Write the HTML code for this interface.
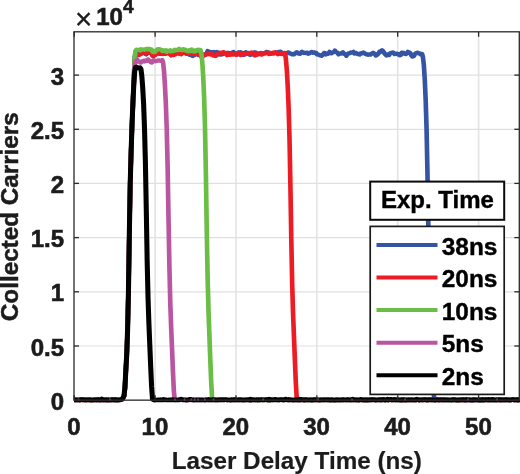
<!DOCTYPE html>
<html lang="en"><head><meta charset="utf-8"><title>Collected Carriers vs Laser Delay Time</title>
<style>
html,body{margin:0;padding:0;background:#fff;}
body{width:520px;height:474px;overflow:hidden;}
svg{display:block;}
text{font-family:'Liberation Sans', sans-serif;font-weight:bold;fill:#1c1c1c;stroke:#1c1c1c;stroke-width:0.2px;}
text.lg{fill:#000;stroke:#000;stroke-width:0.4px;}
tspan.tm{font-weight:normal;stroke-width:0.3px;}
g.tk text{stroke-width:0.6px;}
text.yl{stroke-width:0.5px;}
</style></head><body>
<svg width="520" height="474" viewBox="0 0 520 474">
<rect x="0" y="0" width="520" height="474" fill="#ffffff"/>

<g stroke="#e5e5e5" stroke-width="1.7" fill="none">
<line x1="155.1" y1="31.8" x2="155.1" y2="400.15"/>
<line x1="236.0" y1="31.8" x2="236.0" y2="400.15"/>
<line x1="316.8" y1="31.8" x2="316.8" y2="400.15"/>
<line x1="397.7" y1="31.8" x2="397.7" y2="400.15"/>
<line x1="478.6" y1="31.8" x2="478.6" y2="400.15"/>
</g>
<g stroke="#e0e0e0" stroke-width="1.15" fill="none">
<line x1="74.0" y1="346.0" x2="519.3" y2="346.0"/>
<line x1="74.0" y1="291.8" x2="519.3" y2="291.8"/>
<line x1="74.0" y1="237.6" x2="519.3" y2="237.6"/>
<line x1="74.0" y1="183.4" x2="519.3" y2="183.4"/>
<line x1="74.0" y1="129.3" x2="519.3" y2="129.3"/>
<line x1="74.0" y1="75.1" x2="519.3" y2="75.1"/>
</g>
<defs><clipPath id="ax"><rect x="74.0" y="31.8" width="447.3" height="371.3"/></clipPath></defs>
<g clip-path="url(#ax)">
<g fill="none" stroke-width="4.3" stroke-linejoin="round" stroke-linecap="round" transform="scale(1.08,1)">
<polyline stroke="#3454a4" points="68.70,400.1 69.53,399.9 70.35,399.7 71.18,399.8 72.00,399.7 72.82,399.7 73.65,400.0 74.47,399.9 75.29,399.8 76.12,399.9 76.94,400.0 77.77,399.8 78.59,399.7 79.41,399.9 80.24,399.9 81.06,400.0 81.88,399.8 82.71,399.8 83.53,400.0 84.36,400.0 85.18,400.1 86.00,400.0 86.83,400.0 87.65,399.9 88.47,399.8 89.30,400.1 90.12,399.8 90.95,399.8 91.77,400.1 92.59,399.9 93.42,400.0 94.24,400.0 95.06,400.1 95.89,399.9 96.71,399.8 97.54,399.7 98.36,400.0 99.18,400.1 100.01,400.1 100.83,400.0 101.65,400.1 102.48,399.9 103.30,399.9 104.13,400.1 104.95,399.9 105.77,399.9 106.60,400.0 107.42,400.0 108.25,399.7 109.07,399.9 109.89,400.0 110.72,399.9 111.54,399.9 112.36,399.8 113.19,399.0 114.01,397.5 114.84,396.1 115.66,387.9 116.48,371.3 117.31,355.3 118.13,330.3 118.95,291.7 119.78,233.1 120.60,183.0 121.43,151.3 122.25,125.0 123.07,103.7 123.90,81.1 124.72,57.5 125.54,51.8 126.37,51.6 127.19,51.6 128.02,52.0 128.84,52.6 129.66,53.7 130.49,53.4 131.31,53.5 132.13,53.2 132.96,52.5 133.78,52.9 134.61,54.0 135.43,54.5 136.25,53.0 137.08,52.2 137.90,51.4 138.72,51.0 139.55,51.3 140.37,52.2 141.20,52.7 142.02,53.0 142.84,53.8 143.67,52.6 144.49,51.8 145.32,51.5 146.14,51.7 146.96,53.7 147.79,53.8 148.61,53.4 149.43,53.9 150.26,53.4 151.08,53.6 151.91,53.4 152.73,52.3 153.55,51.8 154.38,51.6 155.20,52.5 156.02,52.5 156.85,52.9 157.67,52.4 158.50,52.9 159.32,53.0 160.14,53.6 160.97,54.0 161.79,53.7 162.61,52.7 163.44,53.1 164.26,53.3 165.09,52.6 165.91,53.6 166.73,53.2 167.56,52.2 168.38,52.6 169.20,52.5 170.03,51.7 170.85,52.2 171.68,52.7 172.50,53.0 173.32,53.9 174.15,53.8 174.97,54.3 175.79,54.9 176.62,54.8 177.44,55.5 178.27,56.0 179.09,54.8 179.91,55.3 180.74,54.2 181.56,53.5 182.39,54.4 183.21,54.6 184.03,55.2 184.86,55.1 185.68,54.7 186.50,54.3 187.33,55.0 188.15,54.5 188.98,55.4 189.80,55.2 190.62,54.0 191.45,53.1 192.27,51.0 193.09,52.0 193.92,52.0 194.74,51.8 195.57,52.5 196.39,52.2 197.21,52.2 198.04,52.0 198.86,53.4 199.68,52.5 200.51,52.0 201.33,53.5 202.16,52.5 202.98,53.3 203.80,54.5 204.63,54.5 205.45,54.4 206.27,54.2 207.10,53.0 207.92,53.3 208.75,53.4 209.57,52.8 210.39,52.9 211.22,53.1 212.04,52.8 212.86,53.6 213.69,53.1 214.51,52.9 215.34,52.4 216.16,52.0 216.98,53.3 217.81,54.3 218.63,54.6 219.46,54.7 220.28,53.0 221.10,52.3 221.93,53.0 222.75,52.3 223.57,53.2 224.40,54.7 225.22,53.1 226.05,54.8 226.87,54.0 227.69,52.2 228.52,53.1 229.34,53.1 230.16,53.0 230.99,54.4 231.81,55.0 232.64,54.5 233.46,54.4 234.28,53.6 235.11,52.3 235.93,52.3 236.75,52.6 237.58,53.8 238.40,54.3 239.23,53.8 240.05,53.7 240.87,53.1 241.70,52.9 242.52,53.5 243.34,53.6 244.17,53.7 244.99,53.4 245.82,52.8 246.64,51.8 247.46,52.0 248.29,52.3 249.11,53.2 249.93,53.9 250.76,53.4 251.58,53.5 252.41,53.3 253.23,52.9 254.05,53.3 254.88,53.2 255.70,52.7 256.53,53.0 257.35,52.7 258.17,51.9 259.00,51.8 259.82,51.7 260.64,52.4 261.47,52.9 262.29,53.3 263.12,54.5 263.94,53.5 264.76,53.3 265.59,53.2 266.41,52.6 267.23,52.4 268.06,53.2 268.88,53.6 269.71,53.6 270.53,54.4 271.35,54.1 272.18,54.4 273.00,53.3 273.82,53.2 274.65,52.3 275.47,52.7 276.30,53.5 277.12,53.6 277.94,53.8 278.77,52.7 279.59,51.7 280.41,52.5 281.24,53.0 282.06,52.7 282.89,53.0 283.71,52.6 284.53,52.6 285.36,53.7 286.18,53.4 287.00,52.8 287.83,52.4 288.65,51.9 289.48,52.7 290.30,52.3 291.12,52.4 291.95,53.2 292.77,52.9 293.60,54.4 294.42,54.6 295.24,54.6 296.07,55.3 296.89,55.4 297.71,55.8 298.54,55.1 299.36,54.0 300.19,52.9 301.01,53.1 301.83,54.5 302.66,53.9 303.48,53.9 304.30,53.3 305.13,51.8 305.95,52.9 306.78,53.4 307.60,52.7 308.42,52.5 309.25,51.9 310.07,50.5 310.89,51.7 311.72,52.5 312.54,52.7 313.37,54.4 314.19,53.8 315.01,53.6 315.84,53.6 316.66,52.8 317.48,52.2 318.31,53.3 319.13,54.1 319.96,54.4 320.78,55.8 321.60,54.3 322.43,53.3 323.25,53.4 324.07,53.2 324.90,52.4 325.72,52.7 326.55,52.7 327.37,51.9 328.19,53.5 329.02,53.1 329.84,53.0 330.67,54.0 331.49,53.9 332.31,53.9 333.14,54.5 333.96,53.3 334.78,53.2 335.61,53.3 336.43,52.4 337.26,53.0 338.08,53.7 338.90,54.3 339.73,54.2 340.55,54.8 341.37,54.4 342.20,54.5 343.02,54.7 343.85,53.9 344.67,53.3 345.49,52.8 346.32,53.4 347.14,53.8 347.96,55.6 348.79,55.1 349.61,54.3 350.44,53.6 351.26,51.8 352.08,52.1 352.91,50.9 353.73,50.3 354.55,50.9 355.38,52.1 356.20,53.7 357.03,54.6 357.85,55.5 358.67,54.5 359.50,54.6 360.32,55.1 361.14,53.5 361.97,52.8 362.79,52.9 363.62,52.4 364.44,52.9 365.26,54.2 366.09,54.0 366.91,53.7 367.74,53.6 368.56,54.5 369.38,54.1 370.21,55.4 371.03,55.0 371.85,52.6 372.68,53.1 373.50,52.8 374.33,53.7 375.15,53.9 375.97,54.1 376.80,53.2 377.62,51.8 378.44,52.3 379.27,52.5 380.09,53.4 380.92,55.4 381.74,56.5 382.56,56.4 383.39,55.9 384.21,54.0 385.03,53.2 385.86,53.2 386.68,52.6 387.51,53.1 388.33,53.3 389.15,54.2 389.98,53.8 390.80,53.8 391.62,57.2 392.45,65.0 393.27,78.9 394.10,98.8 394.92,126.7 395.74,169.7 396.57,223.9 397.39,271.6 398.21,306.7 399.04,330.3 399.86,352.8 400.69,375.1 401.51,393.3 402.33,400.0 403.16,400.1 403.98,399.8 404.81,400.0 405.63,400.1 406.45,400.1 407.28,399.9 408.10,399.7 408.92,399.8 409.75,400.0 410.57,399.9 411.40,400.0 412.22,399.9 413.04,400.1 413.87,400.0 414.69,400.1 415.51,400.1 416.34,400.1 417.16,400.1 417.99,399.9 418.81,399.7 419.63,399.9 420.46,399.9 421.28,399.9 422.10,400.0 422.93,400.1 423.75,399.8 424.58,399.9 425.40,399.9 426.22,399.9 427.05,399.9 427.87,399.9 428.69,400.0 429.52,400.1 430.34,399.7 431.17,400.1 431.99,399.7 432.81,400.0 433.64,400.0 434.46,399.9 435.28,400.1 436.11,400.0 436.93,399.8 437.76,400.0 438.58,399.9 439.40,400.0 440.23,400.0 441.05,400.0 441.88,399.9 442.70,399.8 443.52,399.9 444.35,400.1 445.17,399.9 445.99,399.8 446.82,400.0 447.64,399.9 448.47,400.0 449.29,399.9 450.11,400.1 450.94,399.8 451.76,400.0 452.58,400.0 453.41,399.9 454.23,400.1 455.06,399.9 455.88,399.9 456.70,399.9 457.53,400.1 458.35,400.0 459.17,400.0 460.00,400.0 460.82,399.6 461.65,399.8 462.47,399.8 463.29,399.8 464.12,399.7 464.94,400.1 465.76,400.0 466.59,399.8 467.41,399.7 468.24,400.0 469.06,400.1 469.88,400.0 470.71,400.0 471.53,400.0 472.35,399.9 473.18,399.9 474.00,399.9 474.83,399.8 475.65,400.1 476.47,399.9 477.30,399.8 478.12,400.0 478.95,399.9 479.77,400.0 480.59,399.9"/>
<polyline stroke="#ed1c24" points="68.70,400.0 69.53,399.9 70.35,400.0 71.18,399.7 72.00,400.0 72.82,399.8 73.65,399.8 74.47,400.1 75.29,399.8 76.12,400.1 76.94,400.0 77.77,399.9 78.59,400.1 79.41,400.1 80.24,400.0 81.06,399.8 81.88,399.9 82.71,400.0 83.53,400.0 84.36,399.9 85.18,399.8 86.00,400.0 86.83,399.9 87.65,400.0 88.47,400.0 89.30,399.9 90.12,400.1 90.95,400.0 91.77,400.0 92.59,400.0 93.42,399.8 94.24,400.0 95.06,400.1 95.89,399.9 96.71,400.1 97.54,399.9 98.36,399.5 99.18,400.0 100.01,400.0 100.83,399.6 101.65,400.0 102.48,400.1 103.30,400.0 104.13,399.8 104.95,399.6 105.77,400.1 106.60,400.0 107.42,399.8 108.25,400.0 109.07,399.9 109.89,399.8 110.72,399.6 111.54,399.7 112.36,399.8 113.19,399.3 114.01,397.8 114.84,396.1 115.66,388.0 116.48,371.2 117.31,355.5 118.13,330.4 118.95,291.5 119.78,232.2 120.60,182.5 121.43,151.5 122.25,125.1 123.07,105.9 123.90,83.7 124.72,62.4 125.54,56.2 126.37,55.4 127.19,54.9 128.02,55.1 128.84,55.1 129.66,54.5 130.49,53.6 131.31,52.9 132.13,52.7 132.96,52.5 133.78,52.6 134.61,51.8 135.43,52.3 136.25,52.9 137.08,52.8 137.90,52.8 138.72,51.9 139.55,53.0 140.37,53.2 141.20,56.0 142.02,56.5 142.84,55.4 143.67,55.2 144.49,53.7 145.32,53.5 146.14,53.5 146.96,53.0 147.79,52.4 148.61,53.2 149.43,52.8 150.26,52.9 151.08,54.0 151.91,53.8 152.73,53.9 153.55,53.8 154.38,53.1 155.20,52.9 156.02,53.7 156.85,53.9 157.67,54.6 158.50,55.5 159.32,54.6 160.14,54.6 160.97,55.0 161.79,54.4 162.61,54.3 163.44,53.5 164.26,52.4 165.09,52.8 165.91,52.8 166.73,53.7 167.56,54.3 168.38,53.6 169.20,53.1 170.03,53.0 170.85,53.1 171.68,53.2 172.50,53.8 173.32,52.9 174.15,53.4 174.97,53.4 175.79,52.8 176.62,53.0 177.44,52.8 178.27,53.8 179.09,54.1 179.91,54.2 180.74,54.0 181.56,53.6 182.39,53.6 183.21,53.3 184.03,54.3 184.86,55.0 185.68,55.9 186.50,56.8 187.33,56.3 188.15,55.7 188.98,54.6 189.80,54.6 190.62,54.3 191.45,54.4 192.27,54.3 193.09,54.1 193.92,54.1 194.74,53.8 195.57,54.6 196.39,54.0 197.21,55.4 198.04,55.7 198.86,55.7 199.68,56.1 200.51,55.2 201.33,54.1 202.16,54.3 202.98,53.6 203.80,52.8 204.63,53.2 205.45,52.5 206.27,52.3 207.10,52.2 207.92,53.4 208.75,53.1 209.57,54.0 210.39,55.3 211.22,53.6 212.04,54.9 212.86,54.8 213.69,53.9 214.51,54.6 215.34,53.8 216.16,54.5 216.98,54.3 217.81,54.4 218.63,54.8 219.46,53.3 220.28,52.9 221.10,53.4 221.93,53.7 222.75,55.0 223.57,54.9 224.40,54.4 225.22,54.1 226.05,53.9 226.87,54.1 227.69,54.0 228.52,53.5 229.34,53.9 230.16,53.4 230.99,53.7 231.81,53.3 232.64,52.5 233.46,53.1 234.28,53.1 235.11,54.4 235.93,55.5 236.75,55.2 237.58,54.9 238.40,53.8 239.23,53.4 240.05,54.0 240.87,54.3 241.70,54.6 242.52,54.5 243.34,53.7 244.17,53.1 244.99,53.1 245.82,52.9 246.64,53.0 247.46,52.5 248.29,53.7 249.11,54.0 249.93,52.9 250.76,53.1 251.58,53.5 252.41,52.7 253.23,53.3 254.05,52.9 254.88,52.2 255.70,52.7 256.53,53.4 257.35,54.2 258.17,53.2 259.00,53.7 259.82,53.8 260.64,54.0 261.47,53.6 262.29,53.2 263.12,53.0 263.94,53.0 264.76,59.6 265.59,70.1 266.41,85.9 267.23,107.4 268.06,138.3 268.88,184.4 269.71,238.9 270.53,283.2 271.35,313.5 272.18,336.5 273.00,358.9 273.82,380.5 274.65,396.7 275.47,400.0 276.30,400.0 277.12,400.1 277.94,400.0 278.77,400.0 279.59,399.9 280.41,399.9 281.24,400.1 282.06,399.7 282.89,399.9 283.71,400.0 284.53,400.1 285.36,399.9 286.18,399.9 287.00,400.0 287.83,399.7 288.65,400.0 289.48,399.8 290.30,399.9 291.12,400.0 291.95,400.0 292.77,400.0 293.60,400.1 294.42,400.1 295.24,399.9 296.07,400.0 296.89,399.9 297.71,399.8 298.54,399.9 299.36,400.0 300.19,399.9 301.01,399.7 301.83,399.8 302.66,400.1 303.48,400.0 304.30,400.0 305.13,400.1 305.95,400.0 306.78,400.0 307.60,399.9 308.42,400.0 309.25,399.9 310.07,399.8 310.89,400.0 311.72,399.9 312.54,400.0 313.37,399.9 314.19,399.9 315.01,399.9 315.84,400.1 316.66,399.8 317.48,400.0 318.31,400.1 319.13,399.8 319.96,399.9 320.78,400.0 321.60,399.6 322.43,399.8 323.25,399.9 324.07,400.0 324.90,400.0 325.72,400.0 326.55,399.7 327.37,400.0 328.19,399.8 329.02,399.7 329.84,400.0 330.67,400.1 331.49,400.0 332.31,400.1 333.14,400.1 333.96,399.9 334.78,399.9 335.61,400.1 336.43,399.9 337.26,400.1 338.08,400.0 338.90,399.9 339.73,399.3 340.55,399.9 341.37,400.0 342.20,399.9 343.02,399.8 343.85,399.9 344.67,399.7 345.49,399.8 346.32,399.9 347.14,399.9 347.96,400.0 348.79,399.9 349.61,399.9 350.44,399.9 351.26,400.0 352.08,399.9 352.91,399.8 353.73,400.0 354.55,399.9 355.38,399.9 356.20,399.8 357.03,400.0 357.85,399.7 358.67,399.7 359.50,400.0 360.32,399.7 361.14,400.0 361.97,400.0 362.79,400.0 363.62,399.7 364.44,399.6 365.26,399.6 366.09,399.9 366.91,399.7 367.74,400.0 368.56,400.0 369.38,399.8 370.21,400.0 371.03,400.0 371.85,399.7 372.68,400.0 373.50,399.9 374.33,400.0 375.15,400.1 375.97,400.1 376.80,400.0 377.62,399.8 378.44,400.0 379.27,399.8 380.09,399.8 380.92,399.9 381.74,400.0 382.56,399.9 383.39,400.0 384.21,400.0 385.03,400.0 385.86,399.9 386.68,399.7 387.51,400.0 388.33,400.0 389.15,399.8 389.98,399.9 390.80,399.7 391.62,400.1 392.45,400.0 393.27,400.1 394.10,399.5 394.92,400.1 395.74,400.0 396.57,400.0 397.39,400.0 398.21,400.0 399.04,399.9 399.86,399.9 400.69,399.4 401.51,400.0 402.33,400.0 403.16,400.0 403.98,399.8 404.81,400.0 405.63,399.9 406.45,400.0 407.28,400.0 408.10,400.0 408.92,399.9 409.75,400.0 410.57,399.8 411.40,399.9 412.22,400.0 413.04,400.0 413.87,399.8 414.69,399.8 415.51,399.6 416.34,399.9 417.16,399.9 417.99,400.0 418.81,399.9 419.63,400.0 420.46,399.9 421.28,399.9 422.10,400.0 422.93,399.8 423.75,400.0 424.58,400.0 425.40,400.1 426.22,400.0 427.05,400.0 427.87,400.1 428.69,399.9 429.52,400.1 430.34,400.0 431.17,400.0 431.99,400.0 432.81,399.9 433.64,400.1 434.46,399.8 435.28,399.8 436.11,400.1 436.93,399.9 437.76,399.9 438.58,400.1 439.40,399.9 440.23,399.8 441.05,399.8 441.88,399.9 442.70,399.9 443.52,399.6 444.35,400.1 445.17,400.1 445.99,399.8 446.82,399.9 447.64,399.8 448.47,399.9 449.29,399.9 450.11,399.7 450.94,400.1 451.76,400.0 452.58,399.9 453.41,400.1 454.23,399.9 455.06,399.9 455.88,399.8 456.70,400.0 457.53,399.8 458.35,399.9 459.17,400.1 460.00,400.1 460.82,399.8 461.65,399.7 462.47,400.0 463.29,400.0 464.12,400.1 464.94,400.1 465.76,400.0 466.59,399.9 467.41,400.0 468.24,400.0 469.06,399.9 469.88,399.8 470.71,399.7 471.53,400.0 472.35,399.8 473.18,399.7 474.00,400.0 474.83,399.8 475.65,399.7 476.47,400.0 477.30,399.9 478.12,400.0 478.95,399.7 479.77,400.0 480.59,400.0"/>
<polyline stroke="#6abd45" points="68.70,399.7 69.53,399.7 70.35,399.8 71.18,400.0 72.00,400.0 72.82,400.0 73.65,399.9 74.47,400.0 75.29,399.8 76.12,399.9 76.94,400.0 77.77,400.0 78.59,400.1 79.41,400.0 80.24,400.0 81.06,400.1 81.88,399.9 82.71,400.0 83.53,399.9 84.36,400.1 85.18,400.1 86.00,399.9 86.83,399.9 87.65,399.8 88.47,399.9 89.30,400.1 90.12,400.0 90.95,400.0 91.77,399.8 92.59,399.9 93.42,399.7 94.24,400.1 95.06,399.5 95.89,400.1 96.71,400.0 97.54,399.9 98.36,399.6 99.18,399.8 100.01,399.9 100.83,400.1 101.65,400.0 102.48,399.9 103.30,400.0 104.13,400.0 104.95,400.0 105.77,400.0 106.60,400.0 107.42,399.9 108.25,400.0 109.07,400.1 109.89,400.0 110.72,400.0 111.54,399.8 112.36,399.6 113.19,399.1 114.01,397.8 114.84,396.2 115.66,388.0 116.48,371.5 117.31,355.4 118.13,330.4 118.95,291.1 119.78,231.9 120.60,181.9 121.43,150.4 122.25,124.4 123.07,104.3 123.90,81.7 124.72,57.7 125.54,51.0 126.37,49.7 127.19,50.1 128.02,49.8 128.84,50.0 129.66,50.5 130.49,49.2 131.31,49.6 132.13,49.7 132.96,49.5 133.78,49.8 134.61,49.2 135.43,48.9 136.25,49.0 137.08,49.5 137.90,48.7 138.72,49.3 139.55,49.4 140.37,49.5 141.20,51.9 142.02,52.0 142.84,52.1 143.67,51.7 144.49,50.5 145.32,49.7 146.14,49.2 146.96,49.2 147.79,49.2 148.61,49.6 149.43,49.8 150.26,50.9 151.08,50.2 151.91,51.0 152.73,50.8 153.55,50.2 154.38,51.8 155.20,50.8 156.02,51.2 156.85,51.1 157.67,50.2 158.50,51.5 159.32,50.9 160.14,51.2 160.97,50.6 161.79,49.7 162.61,50.5 163.44,50.0 164.26,50.0 165.09,50.0 165.91,48.8 166.73,49.8 167.56,50.0 168.38,50.2 169.20,49.4 170.03,49.2 170.85,50.0 171.68,49.6 172.50,50.6 173.32,50.9 174.15,51.2 174.97,50.3 175.79,51.1 176.62,51.1 177.44,49.5 178.27,50.6 179.09,51.3 179.91,50.6 180.74,51.4 181.56,50.6 182.39,49.9 183.21,50.1 184.03,49.7 184.86,51.0 185.68,50.1 186.50,54.1 187.33,62.8 188.15,76.5 188.98,96.9 189.80,126.6 190.62,172.6 191.45,230.6 192.27,279.1 193.09,312.1 193.92,336.6 194.74,360.1 195.57,382.5 196.39,397.9 197.21,399.9 198.04,400.0 198.86,399.9 199.68,399.8 200.51,400.0 201.33,400.0 202.16,399.9 202.98,400.0 203.80,399.8 204.63,399.7 205.45,399.9 206.27,399.9 207.10,399.7 207.92,399.6 208.75,399.9 209.57,399.9 210.39,400.0 211.22,400.0 212.04,400.0 212.86,400.0 213.69,399.8 214.51,400.0 215.34,399.8 216.16,400.0 216.98,400.0 217.81,400.0 218.63,399.4 219.46,399.8 220.28,400.0 221.10,400.0 221.93,400.1 222.75,399.8 223.57,399.9 224.40,399.9 225.22,399.9 226.05,399.9 226.87,400.1 227.69,400.0 228.52,400.0 229.34,399.7 230.16,399.9 230.99,399.9 231.81,400.0 232.64,399.9 233.46,399.8 234.28,400.0 235.11,399.9 235.93,399.6 236.75,400.0 237.58,399.7 238.40,399.9 239.23,399.9 240.05,400.1 240.87,399.9 241.70,400.0 242.52,399.9 243.34,400.0 244.17,400.0 244.99,400.0 245.82,399.9 246.64,399.9 247.46,400.0 248.29,399.8 249.11,399.9 249.93,400.0 250.76,399.6 251.58,400.0 252.41,399.9 253.23,399.8 254.05,400.0 254.88,399.9 255.70,400.1 256.53,400.1 257.35,399.8 258.17,400.1 259.00,400.0 259.82,399.8 260.64,400.0 261.47,400.1 262.29,399.8 263.12,400.1 263.94,399.8 264.76,399.8 265.59,399.9 266.41,399.8 267.23,400.0 268.06,400.0 268.88,399.9 269.71,399.9 270.53,400.0 271.35,399.8 272.18,400.0 273.00,400.0 273.82,400.0 274.65,399.9 275.47,400.1 276.30,399.9 277.12,399.8 277.94,399.5 278.77,399.9 279.59,399.9 280.41,400.1 281.24,400.0 282.06,400.1 282.89,399.8 283.71,399.7 284.53,400.1 285.36,399.7 286.18,400.0 287.00,400.0 287.83,400.0 288.65,399.8 289.48,400.0 290.30,400.0 291.12,399.9 291.95,399.9 292.77,399.7 293.60,399.8 294.42,400.1 295.24,400.0 296.07,400.0 296.89,399.9 297.71,399.9 298.54,400.0 299.36,400.0 300.19,399.9 301.01,400.1 301.83,399.7 302.66,399.9 303.48,400.1 304.30,400.0 305.13,399.8 305.95,400.0 306.78,400.0 307.60,400.1 308.42,399.5 309.25,399.7 310.07,400.1 310.89,400.0 311.72,399.9 312.54,400.0 313.37,400.0 314.19,399.8 315.01,400.0 315.84,400.0 316.66,400.1 317.48,400.0 318.31,399.8 319.13,400.0 319.96,400.1 320.78,400.1 321.60,399.9 322.43,400.0 323.25,400.0 324.07,400.1 324.90,399.8 325.72,400.0 326.55,400.1 327.37,399.8 328.19,399.9 329.02,399.9 329.84,400.1 330.67,399.7 331.49,400.1 332.31,400.0 333.14,399.8 333.96,400.0 334.78,400.0 335.61,400.1 336.43,399.9 337.26,400.0 338.08,399.9 338.90,400.0 339.73,400.0 340.55,399.8 341.37,400.0 342.20,400.0 343.02,400.1 343.85,400.1 344.67,399.8 345.49,400.0 346.32,400.1 347.14,399.8 347.96,399.9 348.79,399.9 349.61,399.8 350.44,399.6 351.26,399.9 352.08,400.1 352.91,399.5 353.73,400.1 354.55,400.0 355.38,400.0 356.20,400.1 357.03,400.0 357.85,399.6 358.67,399.9 359.50,399.9 360.32,400.0 361.14,399.5 361.97,400.0 362.79,399.8 363.62,400.0 364.44,400.1 365.26,399.8 366.09,399.9 366.91,400.1 367.74,400.1 368.56,399.9 369.38,399.7 370.21,399.9 371.03,399.7 371.85,400.0 372.68,400.0 373.50,399.8 374.33,399.7 375.15,400.0 375.97,400.0 376.80,400.1 377.62,399.9 378.44,400.1 379.27,400.0 380.09,400.0 380.92,400.0 381.74,400.0 382.56,399.7 383.39,400.1 384.21,399.9 385.03,399.5 385.86,399.6 386.68,400.0 387.51,399.9 388.33,400.1 389.15,399.9 389.98,400.1 390.80,399.9 391.62,399.9 392.45,400.1 393.27,399.8 394.10,399.9 394.92,399.7 395.74,399.7 396.57,399.9 397.39,400.0 398.21,400.0 399.04,400.0 399.86,399.9 400.69,400.0 401.51,399.9 402.33,399.8 403.16,400.0 403.98,400.1 404.81,399.7 405.63,399.9 406.45,399.9 407.28,399.9 408.10,399.8 408.92,400.0 409.75,400.0 410.57,400.0 411.40,399.9 412.22,399.7 413.04,400.0 413.87,400.0 414.69,399.6 415.51,400.0 416.34,399.8 417.16,400.0 417.99,399.9 418.81,400.0 419.63,399.9 420.46,400.1 421.28,400.0 422.10,399.8 422.93,399.9 423.75,400.1 424.58,399.9 425.40,400.1 426.22,400.1 427.05,400.0 427.87,399.8 428.69,400.0 429.52,399.8 430.34,399.8 431.17,399.6 431.99,400.0 432.81,399.9 433.64,399.8 434.46,400.1 435.28,400.1 436.11,400.0 436.93,399.9 437.76,399.9 438.58,400.0 439.40,399.8 440.23,399.8 441.05,399.9 441.88,399.8 442.70,399.9 443.52,399.8 444.35,400.0 445.17,399.9 445.99,400.0 446.82,400.0 447.64,400.1 448.47,399.8 449.29,400.0 450.11,400.0 450.94,399.8 451.76,400.1 452.58,399.8 453.41,400.0 454.23,399.9 455.06,399.9 455.88,400.1 456.70,399.7 457.53,400.1 458.35,400.1 459.17,399.8 460.00,400.0 460.82,400.0 461.65,400.0 462.47,400.1 463.29,399.9 464.12,399.9 464.94,399.8 465.76,400.0 466.59,400.0 467.41,400.1 468.24,400.0 469.06,399.9 469.88,400.0 470.71,400.1 471.53,400.1 472.35,399.9 473.18,399.9 474.00,399.8 474.83,399.9 475.65,400.0 476.47,400.1 477.30,399.7 478.12,399.7 478.95,400.0 479.77,400.0 480.59,399.7"/>
<polyline stroke="#ba55a0" points="68.70,399.9 69.53,400.0 70.35,399.9 71.18,400.0 72.00,400.0 72.82,399.9 73.65,399.9 74.47,400.0 75.29,400.0 76.12,400.1 76.94,400.1 77.77,400.1 78.59,400.0 79.41,400.1 80.24,399.9 81.06,399.7 81.88,399.8 82.71,400.0 83.53,400.0 84.36,399.9 85.18,400.0 86.00,400.0 86.83,399.9 87.65,399.9 88.47,399.8 89.30,400.1 90.12,399.7 90.95,399.9 91.77,400.0 92.59,400.0 93.42,399.8 94.24,400.1 95.06,400.1 95.89,400.0 96.71,400.1 97.54,399.6 98.36,400.1 99.18,399.7 100.01,400.0 100.83,399.9 101.65,400.0 102.48,400.0 103.30,400.1 104.13,399.6 104.95,400.0 105.77,400.0 106.60,399.8 107.42,400.1 108.25,400.0 109.07,399.9 109.89,400.1 110.72,400.0 111.54,399.9 112.36,399.5 113.19,399.3 114.01,397.8 114.84,395.9 115.66,388.0 116.48,371.1 117.31,355.3 118.13,330.1 118.95,291.4 119.78,232.3 120.60,181.2 121.43,150.1 122.25,123.4 123.07,102.4 123.90,83.1 124.72,65.0 125.54,61.5 126.37,60.6 127.19,59.9 128.02,61.6 128.84,61.5 129.66,62.5 130.49,62.5 131.31,61.3 132.13,61.4 132.96,60.7 133.78,61.4 134.61,60.5 135.43,61.0 136.25,60.9 137.08,59.4 137.90,60.4 138.72,60.9 139.55,62.2 140.37,62.5 141.20,61.8 142.02,60.3 142.84,60.3 143.67,61.3 144.49,61.0 145.32,61.0 146.14,60.5 146.96,60.5 147.79,60.4 148.61,60.8 149.43,60.4 150.26,60.1 151.08,63.1 151.91,71.7 152.73,85.5 153.55,103.4 154.38,128.7 155.20,166.1 156.02,216.7 156.85,266.2 157.67,303.0 158.50,328.2 159.32,349.5 160.14,371.6 160.97,390.8 161.79,400.0 162.61,400.0 163.44,399.7 164.26,400.0 165.09,399.9 165.91,399.9 166.73,399.9 167.56,399.7 168.38,400.0 169.20,399.9 170.03,399.9 170.85,399.8 171.68,400.1 172.50,399.9 173.32,400.0 174.15,399.9 174.97,400.1 175.79,400.0 176.62,400.0 177.44,399.9 178.27,399.6 179.09,400.0 179.91,399.8 180.74,400.0 181.56,399.5 182.39,400.0 183.21,400.1 184.03,399.6 184.86,400.0 185.68,400.0 186.50,399.9 187.33,400.0 188.15,400.0 188.98,399.8 189.80,400.0 190.62,399.8 191.45,399.9 192.27,399.9 193.09,400.0 193.92,400.0 194.74,400.0 195.57,400.0 196.39,400.1 197.21,399.9 198.04,399.8 198.86,399.8 199.68,400.1 200.51,399.9 201.33,400.0 202.16,399.9 202.98,399.9 203.80,399.9 204.63,400.0 205.45,400.0 206.27,400.0 207.10,399.9 207.92,400.0 208.75,399.7 209.57,400.0 210.39,400.0 211.22,399.5 212.04,400.0 212.86,400.0 213.69,399.9 214.51,400.0 215.34,400.0 216.16,399.9 216.98,400.0 217.81,399.8 218.63,399.9 219.46,399.9 220.28,399.8 221.10,400.0 221.93,399.9 222.75,400.0 223.57,399.9 224.40,400.1 225.22,400.0 226.05,400.0 226.87,400.0 227.69,400.0 228.52,399.5 229.34,399.7 230.16,400.1 230.99,399.9 231.81,400.0 232.64,400.1 233.46,399.9 234.28,399.8 235.11,400.0 235.93,400.1 236.75,400.0 237.58,399.8 238.40,400.1 239.23,400.1 240.05,400.1 240.87,400.1 241.70,400.0 242.52,400.0 243.34,400.0 244.17,399.7 244.99,399.8 245.82,400.1 246.64,399.8 247.46,400.0 248.29,400.0 249.11,399.8 249.93,399.8 250.76,400.0 251.58,399.8 252.41,400.1 253.23,399.9 254.05,399.9 254.88,400.0 255.70,399.9 256.53,399.9 257.35,400.0 258.17,399.6 259.00,400.1 259.82,400.0 260.64,399.9 261.47,399.8 262.29,399.9 263.12,399.9 263.94,400.0 264.76,399.9 265.59,399.8 266.41,400.0 267.23,400.0 268.06,400.1 268.88,399.9 269.71,399.9 270.53,400.0 271.35,400.1 272.18,399.9 273.00,400.1 273.82,400.1 274.65,399.9 275.47,400.0 276.30,400.0 277.12,399.9 277.94,400.0 278.77,399.8 279.59,400.1 280.41,400.0 281.24,400.0 282.06,399.9 282.89,399.7 283.71,400.0 284.53,399.8 285.36,399.9 286.18,400.0 287.00,400.0 287.83,400.0 288.65,399.9 289.48,399.9 290.30,400.0 291.12,399.9 291.95,399.9 292.77,399.8 293.60,399.7 294.42,400.0 295.24,400.0 296.07,399.9 296.89,399.9 297.71,400.0 298.54,400.1 299.36,399.8 300.19,399.7 301.01,399.9 301.83,399.9 302.66,399.9 303.48,399.7 304.30,399.8 305.13,400.0 305.95,400.0 306.78,400.0 307.60,400.0 308.42,400.1 309.25,400.1 310.07,399.8 310.89,399.9 311.72,400.1 312.54,399.8 313.37,399.9 314.19,399.9 315.01,399.9 315.84,400.1 316.66,400.1 317.48,399.8 318.31,400.0 319.13,399.8 319.96,399.5 320.78,399.7 321.60,399.9 322.43,400.0 323.25,399.9 324.07,400.1 324.90,399.9 325.72,400.1 326.55,399.7 327.37,400.1 328.19,400.0 329.02,400.0 329.84,400.0 330.67,400.0 331.49,400.0 332.31,399.7 333.14,400.1 333.96,399.8 334.78,400.0 335.61,399.8 336.43,400.0 337.26,400.1 338.08,399.9 338.90,400.0 339.73,399.9 340.55,400.0 341.37,400.0 342.20,399.9 343.02,400.0 343.85,400.0 344.67,400.1 345.49,399.7 346.32,399.9 347.14,399.9 347.96,400.1 348.79,400.0 349.61,400.0 350.44,400.0 351.26,400.1 352.08,400.1 352.91,400.0 353.73,400.0 354.55,399.8 355.38,400.0 356.20,399.8 357.03,399.9 357.85,400.1 358.67,399.7 359.50,400.0 360.32,400.0 361.14,399.8 361.97,399.9 362.79,400.0 363.62,400.0 364.44,400.0 365.26,399.7 366.09,400.0 366.91,400.0 367.74,400.0 368.56,399.8 369.38,400.0 370.21,400.0 371.03,399.9 371.85,400.0 372.68,399.8 373.50,400.0 374.33,400.0 375.15,399.9 375.97,400.1 376.80,400.1 377.62,400.1 378.44,400.0 379.27,400.0 380.09,400.0 380.92,400.0 381.74,400.1 382.56,399.8 383.39,400.0 384.21,400.0 385.03,399.8 385.86,399.7 386.68,399.8 387.51,400.0 388.33,400.1 389.15,400.0 389.98,399.8 390.80,400.0 391.62,399.7 392.45,400.0 393.27,399.9 394.10,400.0 394.92,400.1 395.74,399.8 396.57,400.0 397.39,400.0 398.21,399.8 399.04,399.5 399.86,400.0 400.69,399.9 401.51,400.0 402.33,400.0 403.16,399.8 403.98,399.9 404.81,399.8 405.63,400.1 406.45,400.0 407.28,399.7 408.10,399.8 408.92,399.9 409.75,399.9 410.57,400.1 411.40,399.8 412.22,399.7 413.04,399.8 413.87,399.9 414.69,399.9 415.51,400.0 416.34,400.0 417.16,400.1 417.99,400.1 418.81,399.8 419.63,399.3 420.46,400.0 421.28,399.8 422.10,400.0 422.93,399.8 423.75,400.1 424.58,400.1 425.40,400.0 426.22,399.9 427.05,400.0 427.87,399.9 428.69,399.8 429.52,399.7 430.34,400.0 431.17,399.9 431.99,400.0 432.81,399.8 433.64,400.1 434.46,399.9 435.28,399.9 436.11,400.1 436.93,400.1 437.76,400.1 438.58,400.1 439.40,400.0 440.23,400.1 441.05,399.8 441.88,399.6 442.70,399.9 443.52,400.1 444.35,400.0 445.17,399.9 445.99,399.9 446.82,399.8 447.64,399.8 448.47,400.0 449.29,400.0 450.11,399.8 450.94,399.9 451.76,400.0 452.58,399.9 453.41,400.1 454.23,400.0 455.06,400.0 455.88,399.7 456.70,400.0 457.53,399.6 458.35,400.1 459.17,399.9 460.00,400.1 460.82,399.6 461.65,400.1 462.47,400.0 463.29,399.6 464.12,400.0 464.94,399.8 465.76,400.1 466.59,399.8 467.41,400.0 468.24,399.9 469.06,400.0 469.88,400.0 470.71,400.0 471.53,399.9 472.35,400.1 473.18,400.1 474.00,399.9 474.83,399.7 475.65,400.1 476.47,400.1 477.30,400.0 478.12,399.9 478.95,399.9 479.77,399.9 480.59,400.0"/>
<polyline stroke="#000000" stroke-width="4.7" points="68.70,399.7 69.53,399.8 70.35,400.0 71.18,400.0 72.00,400.0 72.82,400.0 73.65,400.1 74.47,399.7 75.29,399.7 76.12,399.7 76.94,399.7 77.77,399.7 78.59,399.9 79.41,400.0 80.24,399.8 81.06,400.0 81.88,399.9 82.71,399.7 83.53,399.8 84.36,400.1 85.18,400.0 86.00,400.0 86.83,399.9 87.65,399.9 88.47,400.0 89.30,399.7 90.12,400.0 90.95,399.6 91.77,399.8 92.59,400.1 93.42,400.0 94.24,399.1 95.06,399.8 95.89,400.0 96.71,399.9 97.54,400.0 98.36,399.9 99.18,400.1 100.01,399.8 100.83,400.0 101.65,400.0 102.48,400.0 103.30,399.5 104.13,399.7 104.95,399.8 105.77,400.0 106.60,399.5 107.42,400.0 108.25,400.1 109.07,399.9 109.89,400.0 110.72,400.0 111.54,399.8 112.36,399.3 113.19,399.1 114.01,397.6 114.84,395.7 115.66,387.8 116.48,370.9 117.31,355.1 118.13,330.4 118.95,291.3 119.78,232.3 120.60,182.2 121.43,150.9 122.25,125.1 123.07,102.1 123.90,84.4 124.72,71.2 125.54,67.1 126.37,67.2 127.19,67.8 128.02,67.7 128.84,68.0 129.66,67.6 130.49,69.0 131.31,75.9 132.13,87.5 132.96,103.6 133.78,127.3 134.61,161.1 135.43,208.4 136.25,260.1 137.08,298.2 137.90,324.1 138.72,345.6 139.55,367.2 140.37,386.4 141.20,399.0 142.02,399.8 142.84,400.1 143.67,399.9 144.49,400.0 145.32,400.0 146.14,399.9 146.96,399.8 147.79,399.9 148.61,399.7 149.43,399.9 150.26,400.0 151.08,399.3 151.91,399.8 152.73,399.6 153.55,399.9 154.38,400.0 155.20,400.0 156.02,400.0 156.85,399.8 157.67,399.9 158.50,399.8 159.32,399.7 160.14,400.0 160.97,399.8 161.79,399.9 162.61,399.8 163.44,400.0 164.26,400.0 165.09,399.9 165.91,400.0 166.73,399.5 167.56,399.2 168.38,399.3 169.20,399.7 170.03,400.0 170.85,399.9 171.68,399.9 172.50,400.1 173.32,400.0 174.15,400.0 174.97,399.5 175.79,399.3 176.62,399.4 177.44,399.8 178.27,400.0 179.09,399.9 179.91,400.1 180.74,400.0 181.56,400.0 182.39,399.9 183.21,399.8 184.03,399.9 184.86,399.9 185.68,400.0 186.50,399.8 187.33,399.9 188.15,400.0 188.98,400.0 189.80,400.1 190.62,399.7 191.45,399.9 192.27,400.0 193.09,399.4 193.92,399.8 194.74,399.8 195.57,400.0 196.39,400.0 197.21,399.5 198.04,400.0 198.86,399.8 199.68,400.1 200.51,399.8 201.33,400.0 202.16,399.9 202.98,400.0 203.80,399.5 204.63,399.9 205.45,399.5 206.27,399.5 207.10,400.0 207.92,399.8 208.75,399.6 209.57,399.8 210.39,400.0 211.22,400.0 212.04,400.0 212.86,400.0 213.69,400.1 214.51,399.7 215.34,399.8 216.16,400.0 216.98,399.7 217.81,399.3 218.63,400.1 219.46,400.0 220.28,400.0 221.10,399.6 221.93,400.0 222.75,399.6 223.57,400.0 224.40,399.9 225.22,400.1 226.05,400.0 226.87,399.9 227.69,399.9 228.52,399.8 229.34,399.8 230.16,400.0 230.99,400.1 231.81,399.2 232.64,400.1 233.46,399.5 234.28,399.8 235.11,399.8 235.93,400.0 236.75,400.0 237.58,399.7 238.40,400.1 239.23,399.7 240.05,400.0 240.87,399.8 241.70,399.7 242.52,399.6 243.34,400.0 244.17,399.8 244.99,399.9 245.82,399.6 246.64,399.8 247.46,399.7 248.29,400.1 249.11,399.2 249.93,400.1 250.76,399.5 251.58,399.9 252.41,399.7 253.23,400.0 254.05,399.6 254.88,399.3 255.70,399.8 256.53,400.0 257.35,399.8 258.17,399.8 259.00,399.8 259.82,399.6 260.64,399.5 261.47,399.8 262.29,400.1 263.12,400.0 263.94,399.3 264.76,399.1 265.59,399.9 266.41,400.0 267.23,399.5 268.06,400.0 268.88,399.7 269.71,399.9 270.53,400.0 271.35,400.1 272.18,400.0 273.00,399.9 273.82,400.0 274.65,399.3 275.47,399.9 276.30,400.0 277.12,399.3 277.94,400.1 278.77,399.3 279.59,399.6 280.41,399.9 281.24,399.7 282.06,400.1 282.89,399.7 283.71,399.5 284.53,400.0 285.36,400.0 286.18,400.0 287.00,399.9 287.83,399.9 288.65,400.1 289.48,400.1 290.30,399.7 291.12,399.5 291.95,399.9 292.77,400.0 293.60,399.6 294.42,400.0 295.24,400.0 296.07,400.1 296.89,399.9 297.71,399.9 298.54,399.9 299.36,399.9 300.19,399.8 301.01,399.9 301.83,399.8 302.66,399.9 303.48,399.7 304.30,399.8 305.13,400.0 305.95,400.1 306.78,399.7 307.60,399.9 308.42,400.0 309.25,400.1 310.07,400.1 310.89,400.1 311.72,399.8 312.54,399.8 313.37,399.9 314.19,400.1 315.01,400.0 315.84,399.9 316.66,399.8 317.48,399.7 318.31,399.8 319.13,400.0 319.96,400.0 320.78,400.0 321.60,399.7 322.43,400.0 323.25,399.8 324.07,399.8 324.90,399.9 325.72,399.8 326.55,399.2 327.37,399.9 328.19,400.0 329.02,399.8 329.84,399.8 330.67,399.9 331.49,400.0 332.31,400.1 333.14,399.8 333.96,399.4 334.78,399.5 335.61,400.0 336.43,399.8 337.26,400.1 338.08,399.8 338.90,399.9 339.73,400.1 340.55,400.1 341.37,400.0 342.20,399.7 343.02,399.8 343.85,400.0 344.67,399.6 345.49,399.5 346.32,400.0 347.14,399.9 347.96,400.1 348.79,400.0 349.61,400.0 350.44,399.8 351.26,399.7 352.08,399.5 352.91,400.1 353.73,399.8 354.55,399.3 355.38,399.8 356.20,400.1 357.03,399.9 357.85,399.7 358.67,399.2 359.50,400.0 360.32,399.6 361.14,399.6 361.97,399.4 362.79,399.8 363.62,399.8 364.44,399.7 365.26,399.4 366.09,400.0 366.91,400.0 367.74,399.6 368.56,399.7 369.38,400.0 370.21,400.1 371.03,400.1 371.85,399.7 372.68,400.1 373.50,399.7 374.33,399.6 375.15,400.1 375.97,399.9 376.80,399.8 377.62,399.9 378.44,399.7 379.27,399.9 380.09,399.9 380.92,399.7 381.74,400.0 382.56,400.0 383.39,399.9 384.21,399.8 385.03,400.1 385.86,399.2 386.68,399.7 387.51,399.7 388.33,400.1 389.15,399.8 389.98,399.8 390.80,399.9 391.62,400.0 392.45,399.6 393.27,399.6 394.10,399.8 394.92,399.9 395.74,400.1 396.57,399.9 397.39,399.5 398.21,399.5 399.04,399.9 399.86,399.9 400.69,400.0 401.51,399.7 402.33,400.0 403.16,400.1 403.98,400.0 404.81,399.5 405.63,399.5 406.45,400.0 407.28,399.9 408.10,399.7 408.92,399.8 409.75,399.9 410.57,399.7 411.40,400.0 412.22,399.9 413.04,400.0 413.87,399.9 414.69,400.0 415.51,400.0 416.34,400.0 417.16,400.0 417.99,400.1 418.81,399.8 419.63,399.5 420.46,400.0 421.28,399.6 422.10,400.0 422.93,400.1 423.75,400.1 424.58,400.1 425.40,399.9 426.22,399.8 427.05,400.0 427.87,399.7 428.69,399.8 429.52,399.7 430.34,400.0 431.17,400.1 431.99,399.5 432.81,399.9 433.64,400.0 434.46,399.8 435.28,399.8 436.11,400.1 436.93,400.0 437.76,400.1 438.58,399.6 439.40,400.0 440.23,399.8 441.05,399.8 441.88,400.1 442.70,400.1 443.52,399.9 444.35,399.9 445.17,400.1 445.99,399.9 446.82,399.4 447.64,400.1 448.47,399.9 449.29,399.7 450.11,399.6 450.94,400.0 451.76,399.8 452.58,399.4 453.41,399.9 454.23,400.0 455.06,399.4 455.88,400.0 456.70,399.5 457.53,400.0 458.35,400.0 459.17,399.9 460.00,399.7 460.82,399.9 461.65,399.7 462.47,399.6 463.29,400.1 464.12,399.7 464.94,400.0 465.76,399.9 466.59,400.0 467.41,399.9 468.24,399.5 469.06,399.6 469.88,400.0 470.71,399.9 471.53,400.0 472.35,400.1 473.18,399.9 474.00,399.7 474.83,399.7 475.65,399.7 476.47,399.8 477.30,399.8 478.12,400.0 478.95,399.7 479.77,400.1 480.59,399.9"/>
</g>
<g fill="#c25aa8" opacity="0.85">
<rect x="77.7" y="398.6" width="1.7" height="2.4"/>
<rect x="109.0" y="398.6" width="1.7" height="2.4"/>
<rect x="174.2" y="398.6" width="1.7" height="2.4"/>
<rect x="183.8" y="398.6" width="1.7" height="2.4"/>
<rect x="190.5" y="398.6" width="1.7" height="2.4"/>
<rect x="193.8" y="398.6" width="1.7" height="2.4"/>
<rect x="197.2" y="398.6" width="1.7" height="2.4"/>
<rect x="204.0" y="398.6" width="1.7" height="2.4"/>
<rect x="212.7" y="398.6" width="1.7" height="2.4"/>
<rect x="262.2" y="398.6" width="1.7" height="2.4"/>
<rect x="317.2" y="398.6" width="1.7" height="2.4"/>
<rect x="351.2" y="398.6" width="1.7" height="2.4"/>
<rect x="404.2" y="398.6" width="1.7" height="2.4"/>
<rect x="467.2" y="398.6" width="1.7" height="2.4"/>
<rect x="496.2" y="398.6" width="1.7" height="2.4"/>
</g></g>
<rect x="74.0" y="31.8" width="445.29999999999995" height="368.34999999999997" fill="none" stroke="#303030" stroke-width="1.35"/>
<g stroke="#2a2a2a" stroke-width="1.3">
<line x1="74.2" y1="31.8" x2="74.2" y2="36.8"/>
<line x1="74.2" y1="400.15" x2="74.2" y2="395.15"/>
<line x1="155.1" y1="31.8" x2="155.1" y2="36.8"/>
<line x1="155.1" y1="400.15" x2="155.1" y2="395.15"/>
<line x1="236.0" y1="31.8" x2="236.0" y2="36.8"/>
<line x1="236.0" y1="400.15" x2="236.0" y2="395.15"/>
<line x1="316.8" y1="31.8" x2="316.8" y2="36.8"/>
<line x1="316.8" y1="400.15" x2="316.8" y2="395.15"/>
<line x1="397.7" y1="31.8" x2="397.7" y2="36.8"/>
<line x1="397.7" y1="400.15" x2="397.7" y2="395.15"/>
<line x1="478.6" y1="31.8" x2="478.6" y2="36.8"/>
<line x1="478.6" y1="400.15" x2="478.6" y2="395.15"/>
<line x1="74.0" y1="400.1" x2="79.0" y2="400.1"/>
<line x1="519.3" y1="400.1" x2="514.3" y2="400.1"/>
<line x1="74.0" y1="346.0" x2="79.0" y2="346.0"/>
<line x1="519.3" y1="346.0" x2="514.3" y2="346.0"/>
<line x1="74.0" y1="291.8" x2="79.0" y2="291.8"/>
<line x1="519.3" y1="291.8" x2="514.3" y2="291.8"/>
<line x1="74.0" y1="237.6" x2="79.0" y2="237.6"/>
<line x1="519.3" y1="237.6" x2="514.3" y2="237.6"/>
<line x1="74.0" y1="183.4" x2="79.0" y2="183.4"/>
<line x1="519.3" y1="183.4" x2="514.3" y2="183.4"/>
<line x1="74.0" y1="129.3" x2="79.0" y2="129.3"/>
<line x1="519.3" y1="129.3" x2="514.3" y2="129.3"/>
<line x1="74.0" y1="75.1" x2="79.0" y2="75.1"/>
<line x1="519.3" y1="75.1" x2="514.3" y2="75.1"/>
</g>
<g class="tk" font-size="24" text-anchor="middle">
<text x="74.0" y="435.2">0</text>
<text x="154.9" y="435.2">10</text>
<text x="235.8" y="435.2">20</text>
<text x="316.6" y="435.2">30</text>
<text x="397.5" y="435.2">40</text>
<text x="478.4" y="435.2">50</text>
</g>
<g class="tk" font-size="24" text-anchor="end">
<text x="64.0" y="409.8">0</text>
<text x="64.0" y="355.6">0.5</text>
<text x="64.0" y="301.4">1</text>
<text x="64.0" y="247.2">1.5</text>
<text x="64.0" y="193.0">2</text>
<text x="64.0" y="138.9">2.5</text>
<text x="64.0" y="84.7">3</text>
</g>
<g class="tk"><text x="76" y="25.3" font-size="24"><tspan class="tm" font-size="29.5" dx="-0.9" dy="3.7">×</tspan><tspan dx="3.9" dy="-3.7">10</tspan><tspan font-size="19" dy="-12.3" dx="0.1">4</tspan></text></g>
<text x="296.8" y="468.6" font-size="24.25" text-anchor="middle">Laser Delay Time (ns)</text>
<text class="yl" transform="translate(18.2,216.7) rotate(-90)" font-size="24.25" text-anchor="middle">Collected Carriers</text>
<rect x="370.2" y="181.6" width="134" height="38.2" fill="#ffffff" stroke="#0a0a0a" stroke-width="2"/>
<text x="437.4" y="208.2" font-size="24" text-anchor="middle" class="lg">Exp. Time</text>
<rect x="370.2" y="226.4" width="134" height="168" fill="#ffffff" stroke="#1a1a1a" stroke-width="1.7"/>
<line x1="376.5" y1="244.9" x2="437.5" y2="244.9" stroke="#3454a4" stroke-width="4"/>
<text x="441.8" y="254.5" font-size="24.4" class="lg">38ns</text>
<line x1="376.5" y1="277.5" x2="437.5" y2="277.5" stroke="#ed1c24" stroke-width="4"/>
<text x="441.8" y="287.1" font-size="24.4" class="lg">20ns</text>
<line x1="376.5" y1="310.1" x2="437.5" y2="310.1" stroke="#6abd45" stroke-width="4"/>
<text x="441.8" y="319.7" font-size="24.4" class="lg">10ns</text>
<line x1="376.5" y1="342.7" x2="437.5" y2="342.7" stroke="#ba55a0" stroke-width="4"/>
<text x="441.8" y="352.3" font-size="24.4" class="lg">5ns</text>
<line x1="376.5" y1="375.3" x2="437.5" y2="375.3" stroke="#000000" stroke-width="4"/>
<text x="441.8" y="384.9" font-size="24.4" class="lg">2ns</text>
</svg>
</body></html>
